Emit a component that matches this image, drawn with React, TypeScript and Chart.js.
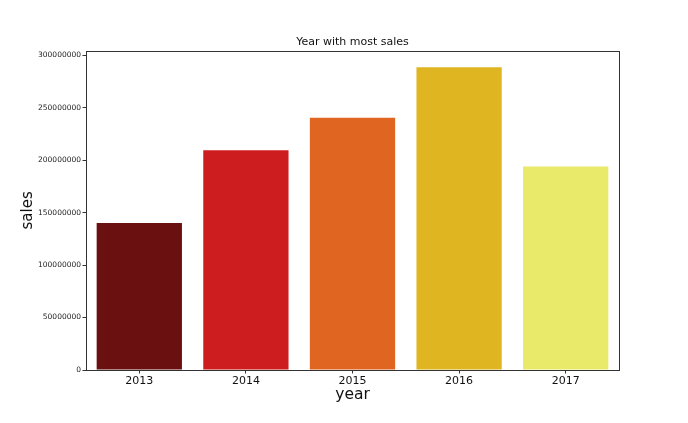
import React, { useEffect, useRef } from 'react';
import Chart from 'chart.js/auto';

const YEARS = ['2013', '2014', '2015', '2016', '2017'];
const SALES = [140200000, 209500000, 240500000, 288600000, 194000000];
const BAR_COLORS = ['#6b1010', '#cd1d1e', '#e06520', '#dfb522', '#e9e96a'];
const Y_TICKS = [0, 50000000, 100000000, 150000000, 200000000, 250000000, 300000000];
const Y_MAX = 304300000;

const FONT = "'DejaVu Sans', sans-serif";
const AXIS_COLOR = '#333333';

// matplotlib-like frame around the plot area
const framePlugin = {
  id: 'frame',
  afterDatasetsDraw(chart: Chart) {
    const { ctx, chartArea } = chart;
    ctx.save();
    ctx.strokeStyle = AXIS_COLOR;
    ctx.lineWidth = 1;
    ctx.strokeRect(
      Math.round(chartArea.left) + 0.5,
      Math.round(chartArea.top) + 0.5,
      Math.round(chartArea.right - chartArea.left),
      Math.round(chartArea.bottom - chartArea.top),
    );
    ctx.restore();
  },
};

const App: React.FC = () => {
  const canvasRef = useRef<HTMLCanvasElement | null>(null);
  const chartRef = useRef<Chart<'bar'>>();

  useEffect(() => {
    if (!canvasRef.current) return;
    const ctx = canvasRef.current.getContext('2d');
    if (!ctx) return;

    chartRef.current = new Chart(ctx, {
      type: 'bar',
      data: {
        labels: YEARS,
        datasets: [
          {
            label: 'sales',
            data: SALES,
            backgroundColor: BAR_COLORS,
            borderWidth: 0,
            barPercentage: 0.8,
            categoryPercentage: 1,
          },
        ],
      },
      options: {
        responsive: true,
        maintainAspectRatio: false,
        animation: false,
        layout: { padding: { top: 36, left: 0, right: 69, bottom: 0 } },
        plugins: {
          legend: { display: false },
          tooltip: { enabled: false },
          title: {
            display: true,
            text: 'Year with most sales',
            fullSize: false,
            color: '#111111',
            font: { family: FONT, size: 11, weight: 'normal', lineHeight: 1.2 },
            padding: { top: 0, bottom: 1.5 },
          },
        },
        scales: {
          x: {
            grid: {
              display: true,
              drawOnChartArea: false,
              drawTicks: true,
              tickLength: 3.5,
              offset: false,
              color: AXIS_COLOR,
            },
            border: { display: false },
            ticks: {
              color: '#111111',
              padding: 1.5,
              font: { family: FONT, size: 11, lineHeight: 1.2 },
            },
            title: {
              display: true,
              text: 'year',
              color: '#111111',
              font: { family: FONT, size: 15.5, lineHeight: 1.2 },
              padding: { top: 0, bottom: 18.5 },
            },
            afterFit: (scale: any) => {
              scale.height = 53;
            },
          },
          y: {
            min: 0,
            max: Y_MAX,
            grid: {
              display: true,
              drawOnChartArea: false,
              drawTicks: true,
              tickLength: 3.5,
              color: AXIS_COLOR,
            },
            border: { display: false },
            ticks: {
              color: '#222222',
              padding: 1.5,
              autoSkip: false,
              font: { family: FONT, size: 7.5, lineHeight: 1.2 },
              callback: (v: any) => String(v),
            },
            title: {
              display: true,
              text: 'sales',
              color: '#111111',
              font: { family: FONT, size: 15, lineHeight: 1.2 },
              padding: { top: 19, bottom: 0 },
            },
            afterBuildTicks: (scale: any) => {
              scale.ticks = Y_TICKS.map((value) => ({ value }));
            },
            afterFit: (scale: any) => {
              scale.width = 86;
            },
          },
        },
      },
      plugins: [framePlugin],
    });

    return () => {
      chartRef.current?.destroy();
    };
  }, []);

  return (
    <div style={{ position: 'fixed', left: 0, top: 0, width: 688, height: 423, background: '#ffffff' }}>
      <canvas ref={canvasRef} />
    </div>
  );
};

export default App;
